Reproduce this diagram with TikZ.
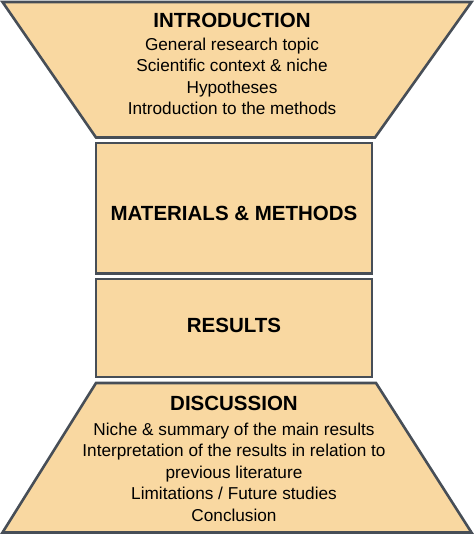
\documentclass[tikz,border=0pt]{standalone}
\usepackage{fontspec}
\setmainfont{Liberation Sans}
\usepackage{tikz}
\usetikzlibrary{positioning}
\definecolor{panelfill}{HTML}{F9D8A1}
\definecolor{paneledge}{HTML}{474E57}

\begin{document}
\begin{tikzpicture}[
  x=1pt, y=-1pt,
  panel/.style={draw=paneledge, fill=panelfill, line width=2.6pt, line join=miter},
  head/.style={font=\fontsize{20.5}{22}\selectfont\bfseries, text=black},
  body/.style={font=\fontsize{17.2}{21.5}\selectfont, align=center, text=black, inner sep=0pt}
]
\useasboundingbox (0,0) rectangle (474,535);

% Introduction (funnel top)
\draw[panel] (2.5,2) -- (471.5,2) -- (375,137.5) -- (96,137.5) -- cycle;
\node[head] (intro) at (232,20) {INTRODUCTION};
\node[body, below=7pt of intro] (introtxt) {General research topic\\Scientific context \& niche\\Hypotheses\\Introduction to the methods};

% Materials & methods
\draw[panel] (96,143) rectangle (372,273.5);
\node[head] (methods) at (234,213) {MATERIALS \& METHODS};

% Results
\draw[panel] (96,279) rectangle (372,377);
\node[head] (results) at (234,325) {RESULTS};

% Discussion (funnel bottom)
\draw[panel] (96,383) -- (376,383) -- (471.5,532.5) -- (2.5,532.5) -- cycle;
\node[head] (disc) at (234,403) {DISCUSSION};
\node[body, below=9pt of disc] (disctxt) {Niche \& summary of the main results\\Interpretation of the results in relation to\\previous literature\\Limitations / Future studies\\Conclusion};

\end{tikzpicture}
\end{document}
